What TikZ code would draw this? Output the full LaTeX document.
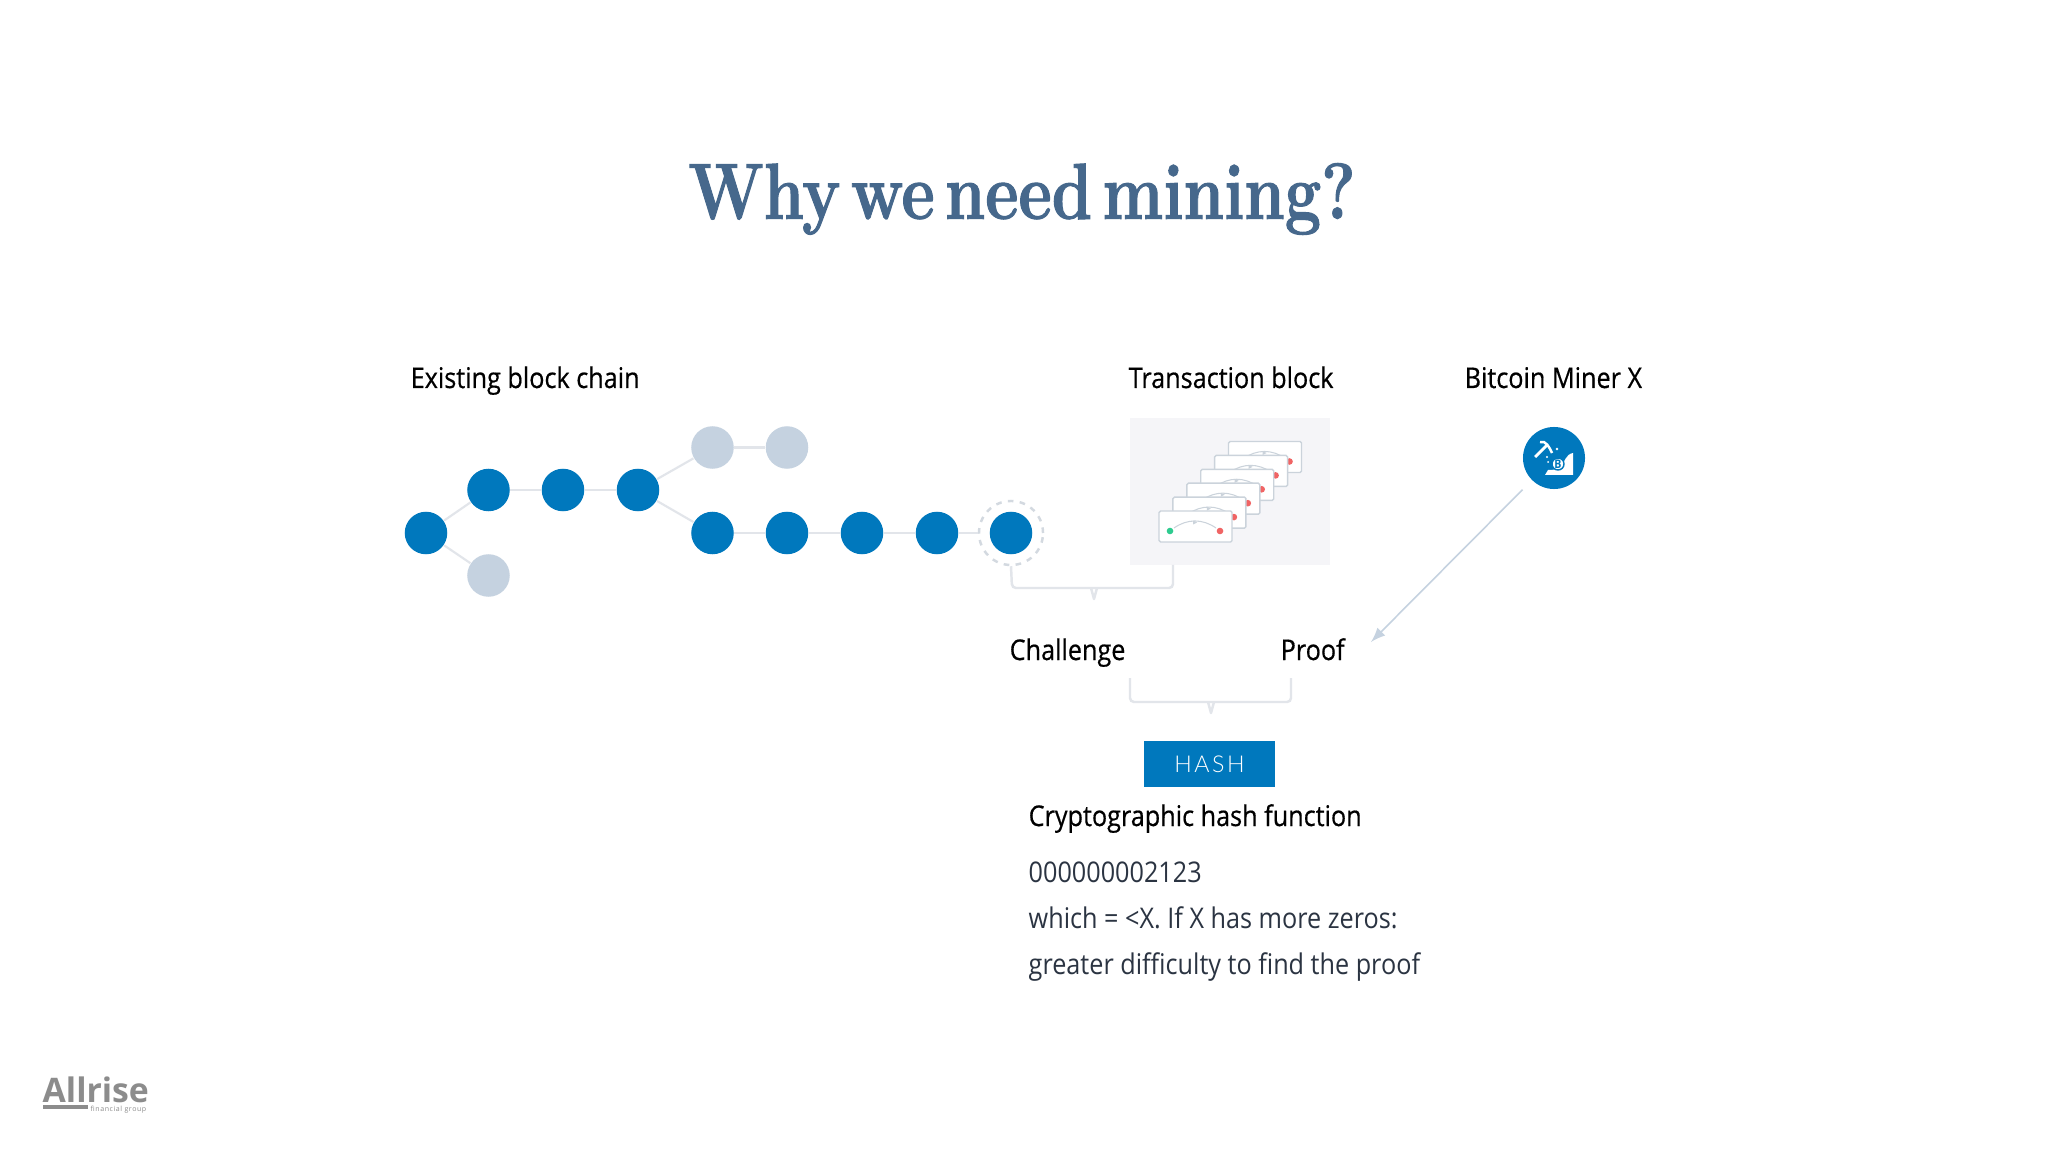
\documentclass[tikz,border=0pt]{standalone}
\usepackage{fontspec}
\setmainfont[FakeStretch=0.885]{Open Sans}
\newfontfamily\titlefont[FakeStretch=0.815,WordSpace=0.42,BoldFeatures={FakeBold=1.2}]{Latin Modern Roman}
\newfontfamily\headfont[FakeStretch=0.885,FakeBold=0.5]{Open Sans}
\newfontfamily\hashfont[LetterSpace=11]{Lato Light}
\newfontfamily\logofont{Open Sans}
\newfontfamily\logosubfont[LetterSpace=8]{Open Sans}
\tikzset{
  chainblock/.style={circle,fill=chainblue,minimum size=4.25mm,inner sep=0pt},
  staleblock/.style={circle,fill=stalegrey,minimum size=4.25mm,inner sep=0pt},
  chainlink/.style={draw=linkgrey,line width=0.6pt},
  bracket/.style={draw=linkgrey,line width=0.7pt,rounded corners=0.4mm},
  heading/.style={anchor=base west,inner sep=0pt,font=\headfont\fontsize{8.1}{10}\selectfont,text=black},
  bodytext/.style={anchor=base west,inner sep=0pt,font=\fontsize{8.1}{10}\selectfont,text=bodyink},
  txcard/.style={draw=cardedge,fill=white,line width=0.4pt,rounded corners=0.15mm}
}
\begin{document}
\begin{tikzpicture}[x=0.01cm,y=-0.01cm]
   \definecolor{chainblue}{HTML}{0078BD}
   \definecolor{stalegrey}{HTML}{C5D2E0}
   \definecolor{linkgrey}{HTML}{E2E5EA}
   \definecolor{cardedge}{HTML}{CBD3DB}
   \definecolor{bodyink}{HTML}{2B3442}
   \definecolor{titleblue}{HTML}{46688C}
   \definecolor{panelgrey}{HTML}{F5F5F8}
   \definecolor{logogrey}{HTML}{8C8C8C}
   \definecolor{okgreen}{HTML}{2ECB8F}
   \definecolor{stopred}{HTML}{F06464}
   \definecolor{ringgrey}{HTML}{D3D9E0}
   \useasboundingbox (0,0) rectangle (2048,1152);
   \fill [white] (0,0) rectangle (2048,1152);
   % title
   \node (title) at (1022,199) {\titlefont\bfseries\fontsize{22.6}{26}\selectfont\textcolor{titleblue}{Why we need mining?}};
   % labels
   \node [heading] (chainlabel) at (410,388) {Existing block chain};
   \node [heading] (blocklabel) at (1128,388) {Transaction block};
   \node [heading] (minerlabel) at (1464,388) {Bitcoin Miner X};
   \node [heading] (challenge) at (1009,660) {Challenge};
   \node [heading] (proof) at (1280,660) {Proof};
   \node [heading] (hashtitle) at (1028,826) {Cryptographic hash function};
   \node [bodytext] (digest) at (1028,882) {000000002123};
   \node [bodytext] (rule) at (1028,928) {which = <X. If X has more zeros:};
   \node [bodytext] (difficulty) at (1028,974) {greater difficulty to find the proof};
   % block chain
   \node [chainblock] (n1) at (426,533) {};
   \node [chainblock] (n2) at (488.5,490) {};
   \node [chainblock] (n3) at (563,490) {};
   \node [chainblock] (n4) at (638,490) {};
   \node [chainblock] (n5) at (712.5,533) {};
   \node [chainblock] (n6) at (787,533) {};
   \node [chainblock] (n7) at (862,533) {};
   \node [chainblock] (n8) at (937,533) {};
   \node [chainblock] (n9) at (1011,533) {};
   \node [staleblock] (s1) at (488.5,575.5) {};
   \node [staleblock] (s2) at (712.5,447.5) {};
   \node [staleblock] (s3) at (787,447.5) {};
   \node [circle,draw=ringgrey,dash pattern=on 1.6pt off 1.8pt,line width=0.7pt,minimum size=6.4mm,inner sep=0pt] (ring) at (1011,533) {};
   \draw [chainlink] (n1) -- (n2);
   \draw [chainlink] (n1) -- (s1);
   \draw [chainlink] (n2) -- (n3);
   \draw [chainlink] (n3) -- (n4);
   \draw [chainlink] (n4) -- (n5);
   \draw [chainlink] (n4) -- (s2);
   \draw [chainlink] (s2) -- (s3);
   \draw [chainlink] (n5) -- (n6);
   \draw [chainlink] (n6) -- (n7);
   \draw [chainlink] (n7) -- (n8);
   \draw [chainlink] (n8) -- (ring);
   % transaction block
   \node [fill=panelgrey,minimum width=20mm,minimum height=14.7mm,inner sep=0pt] (panel) at (1230,491.5) {};
   \foreach \i in {5,4,...,0} {
     \begin{scope}[shift={(13.9*\i,-13.9*\i)}]
       \draw [txcard] (1159,511) rectangle (1232,542);
       \draw [cardedge,line width=0.3pt] (1174,528) to[out=35,in=145] (1216,528);
       \fill [cardedge] (1193,520.5) -- (1197,522.5) -- (1193,524.5) -- cycle;
       \fill [okgreen] (1170,531) circle (3.3);
       \fill [stopred] (1220,531) circle (3.3);
     \end{scope}
   }
   % miner
   \node [circle,fill=chainblue,minimum size=6.2mm,inner sep=0pt] (miner) at (1554,458) {};
   \draw [white,line width=0.8pt] (1535,457) -- (1547,445);
   \draw [white,line width=0.7pt] (1540,442) to[out=15,in=115] (1552,453);
   \fill [white] (1545,475) -- (1548,470) to[out=0,in=200] (1560,468) to[out=50,in=190] (1573,453) -- (1573,475) -- cycle;
   \fill [white] (1557,449) circle (1.4);
   \fill [white] (1547,457) circle (1.2);
   \fill [white] (1548,462) circle (1);
   \filldraw [fill=white,draw=chainblue,line width=0.4pt] (1558,464) circle (6);
   \node [inner sep=0pt,text=chainblue,font=\bfseries\fontsize{3.4}{4}\selectfont] (coin) at (1558,464) {B};
   % connectors
   \coordinate (proofend) at (1371,642);
   \draw [draw=stalegrey,line width=0.45pt,-latex,shorten <=1.3mm] (miner) -- (proofend);
   \coordinate (panelfoot) at (1173,565);
   \coordinate (chaltip) at (1094,599);
   \draw [bracket] (ring.south) -- (1012,588) -- (1173,588) -- (panelfoot);
   \draw [draw=linkgrey,line width=0.7pt,line join=round] (1091,588) -- (chaltip) -- (1097,588);
   \coordinate (brleft) at (1130,678);
   \coordinate (brright) at (1291,678);
   \coordinate (hashtip) at (1211,713);
   \draw [bracket] (brleft) -- (1130,702) -- (1291,702) -- (brright);
   \draw [draw=linkgrey,line width=0.7pt,line join=round] (1208,702) -- (hashtip) -- (1214,702);
   % hash box
   \node [fill=chainblue,text=white,minimum width=13mm,minimum height=4.6mm,inner sep=0pt,font=\fontsize{6.6}{8}\selectfont] (hash) at (1209.5,764) {\hashfont HASH};
   % logo
   \node [anchor=base west,inner sep=0pt,text=logogrey,font=\logofont\bfseries\fontsize{9.6}{11}\selectfont] (logo) at (42,1102) {Allrise};
   \draw [logogrey,line width=0.9pt] (43,1107) -- (88,1107);
   \node [anchor=base west,inner sep=0pt,text=logogrey,font=\logosubfont\fontsize{2}{3}\selectfont] (logosub) at (90,1111) {financial group};
\end{tikzpicture}
\end{document}
